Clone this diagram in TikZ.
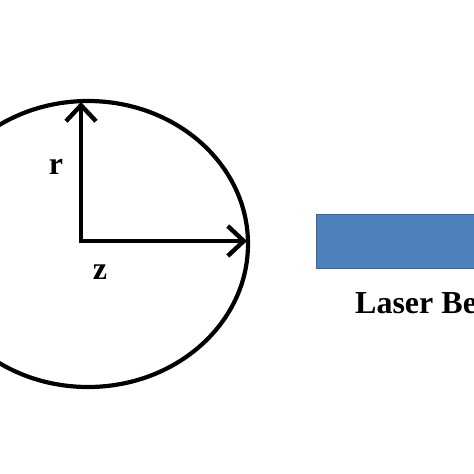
\documentclass[tikz,border=0pt]{standalone}
\usepackage{fontspec}
\setmainfont{Liberation Serif}
\usetikzlibrary{arrows.meta}
\definecolor{beamblue}{HTML}{4F81BD}
\definecolor{beamedge}{HTML}{3A6496}
\tikzset{
  axis/.style={line width=4.4pt, -{Straight Barb[length=16pt,width=30pt,line width=4.4pt]}},
  lbl/.style={font=\fontsize{32}{36}\selectfont\bfseries, inner sep=0pt},
}
\begin{document}
\begin{tikzpicture}[x=1pt,y=-1pt]
\useasboundingbox (0,0) rectangle (474,474);
\clip (0,0) rectangle (474,474);
\draw[line width=4.2pt] (88,244) ellipse [x radius=160, y radius=143];
\coordinate (o) at (81,241);
\coordinate (rt) at (81,102);
\coordinate (zt) at (247,241);
\draw[axis] (81,243.2) -- (rt);
\draw[axis] (78.8,241) -- (zt);
\node[lbl] (r) at (56,167) {r};
\node[lbl] (z) at (100,272) {z};
\node[draw=beamedge, line width=1.2pt, fill=beamblue, minimum width=190pt, minimum height=54pt, inner sep=0pt, anchor=north west] (beam) at (316,214) {};
\node[lbl, anchor=base west] (laser) at (355,313) {Laser Beam};
\end{tikzpicture}
\end{document}
